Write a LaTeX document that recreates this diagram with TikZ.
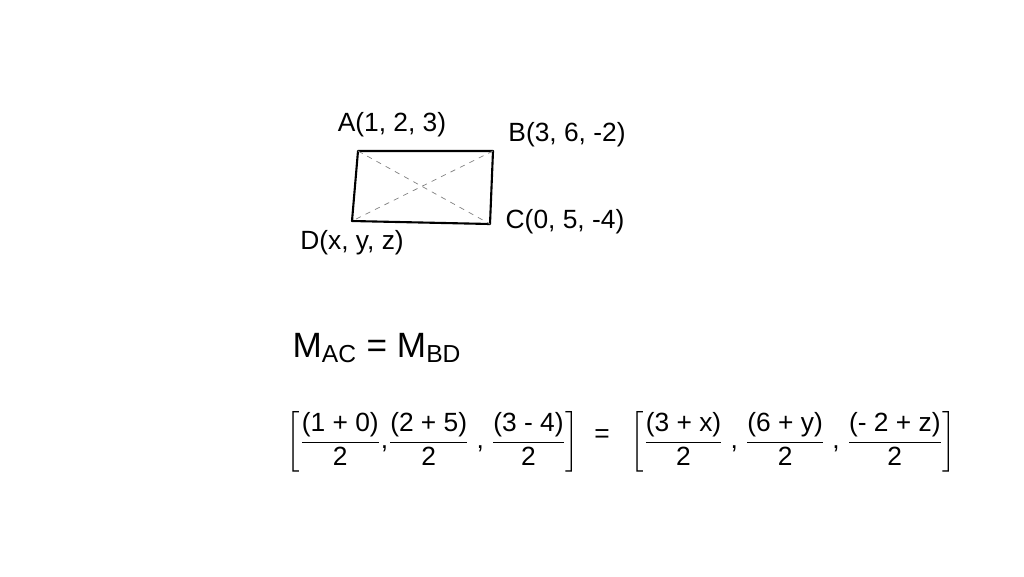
\documentclass[tikz,border=0pt]{standalone}
\usepackage{amsmath}
\usepackage{fontspec}
\setmainfont{Liberation Sans}
\newcommand{\hfr}[2]{\dfrac{\text{#1}}{\text{#2}}}
\begin{document}
\begin{tikzpicture}[x=0.02cm,y=-0.02cm]
\useasboundingbox (0,0) rectangle (1024,576);
\coordinate (A) at (358,151);
\coordinate (B) at (493,151);
\coordinate (C) at (490,224);
\coordinate (D) at (352,221);
\draw[line width=1.2pt, line join=round] (A) -- (B) -- (C) -- (D) -- cycle;
\draw[gray, dashed] (A) -- (C);
\draw[gray, dashed] (B) -- (D);
\node (la) at (392,125) {\fontsize{15}{18}\selectfont A(1, 2, 3)};
\node (lb) at (567,135) {\fontsize{15}{18}\selectfont B(3, 6, -2)};
\node (lc) at (565,222) {\fontsize{15}{18}\selectfont C(0, 5, -4)};
\node (ld) at (352,243) {\fontsize{15}{18}\selectfont D(x, y, z)};
\node (mid) at (377,348) {\fontsize{20}{24}\selectfont $\text{M}_{\text{AC}}\ \text{=}\ \text{M}_{\text{BD}}$};
\node[anchor=west, inner sep=0pt] (eql) at (286,442) {\fontsize{15}{18}\selectfont $\left[\hfr{(1 + 0)}{2}\text{,}\hfr{(2 + 5)}{2}\ \text{,}\ \hfr{(3 - 4)}{2}\right]$};
\node (eqs) at (602,436) {\fontsize{15}{18}\selectfont =};
\node[anchor=west, inner sep=0pt] (eqr) at (630,442) {\fontsize{15}{18}\selectfont $\left[\hfr{(3 + x)}{2}\ \text{,}\ \hfr{(6 + y)}{2}\ \text{,}\ \hfr{(- 2 + z)}{2}\right]$};
\end{tikzpicture}
\end{document}
